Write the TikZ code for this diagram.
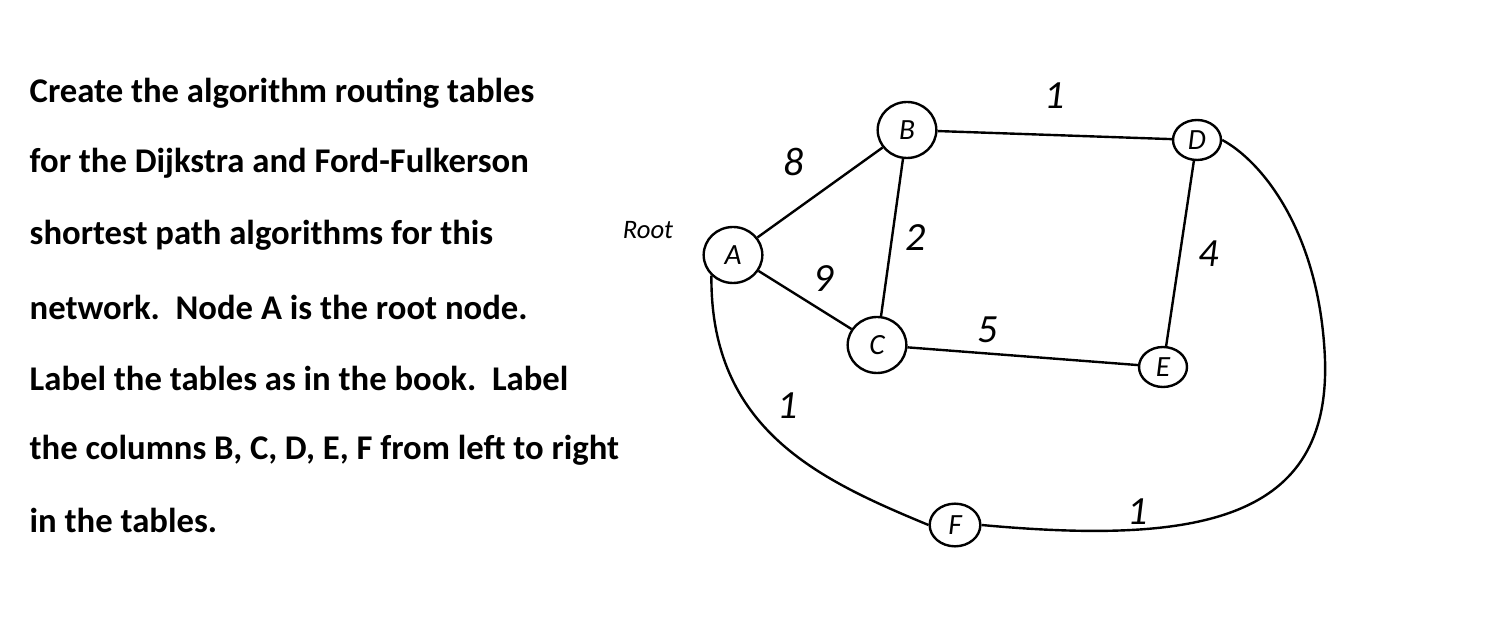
\documentclass[tikz,border=0pt]{standalone}
\usepackage{fontspec}
\setmainfont{Carlito}
\usetikzlibrary{shapes.geometric}
\newcommand{\vlab}[1]{\fontsize{22}{24}\selectfont\itshape #1}
\begin{document}
\begin{tikzpicture}[x=0.75pt,y=-0.75pt,
  vert/.style={draw,line width=1.8pt,ellipse,minimum width=44pt,minimum height=42pt,inner sep=0pt},
  edge/.style={line width=1.8pt},
  wlab/.style={font=\itshape\fontsize{30}{32}\selectfont},
  txt/.style={anchor=west,font=\bfseries\fontsize{26}{30}\selectfont}]
\useasboundingbox (0,0) rectangle (1492,630);
\node[txt] (t1) at (25,93) {Create the algorithm routing tables};
\node[txt] (t2) at (25,163) {for the Dijkstra and Ford-Fulkerson};
\node[txt] (t3) at (25,235) {shortest path algorithms for this};
\node[txt] (t4) at (25,307) {network.\ \ Node A is the root node.};
\node[txt] (t5) at (25,378) {Label the tables as in the book.\ \ Label};
\node[txt] (t6) at (25,450) {the columns B, C, D, E, F from left to right};
\node[txt] (t7) at (25,520) {in the tables.};
\node[vert] (A) at (733,255) {\vlab{A}};
\node[vert] (B) at (907,130) {\vlab{B}};
\node[vert,minimum width=36pt,minimum height=30pt] (D) at (1197,140) {\vlab{D}};
\node[vert] (C) at (877,345) {\vlab{C}};
\node[vert,minimum width=36pt,minimum height=30pt] (E) at (1163,367) {\vlab{E}};
\node[vert,minimum width=38pt,minimum height=32pt] (F) at (955,525) {\vlab{F}};
\node[font=\itshape\fontsize{20}{22}\selectfont] (root) at (648,230) {Root};
\draw[edge] (A) -- (B) node[wlab,pos=0.5,above left=8pt] {8};
\draw[edge] (A) -- (C) node[wlab,pos=0.5,above right=2pt] {9};
\draw[edge] (B) -- (C) node[wlab,pos=0.5,right=6pt] {2};
\draw[edge] (B) -- (D) node[wlab,pos=0.5,above=16pt] {1};
\draw[edge] (D) -- (E) node[wlab,pos=0.5,right=10pt] {4};
\draw[edge] (C) -- (E) node[wlab,pos=0.35,above=4pt] {5};
\draw[edge] (A.south west) .. controls (710,430) and (820,480) .. (F.west) node[wlab,pos=0.45,above right=4pt] {1};
\draw[edge] (F.east) .. controls (1200,545) and (1330,520) .. (1325,360) .. controls (1320,230) and (1260,160) .. (D.east);
\node[wlab] (w7) at (1138,512) {1};
\end{tikzpicture}
\end{document}
